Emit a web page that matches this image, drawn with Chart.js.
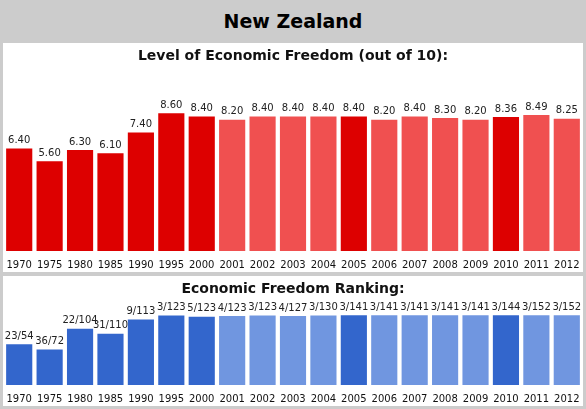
<!DOCTYPE html><html><head><script src="https://cdn.jsdelivr.net/npm/chart.js@4"></script>
<style>body{margin:0;background:#ccc;width:586px;height:409px;overflow:hidden;font-family:"DejaVu Sans"}
#t{height:42px;line-height:42px;text-align:center;font-weight:bold;font-size:19px;color:#000}
.p{position:absolute;left:3px;width:580px;background:#fff}
</style></head><body>
<div id="t">New Zealand</div>
<div class="p" style="top:43px;height:229px"><canvas id="c1"></canvas></div>
<div class="p" style="top:276px;height:130px"><canvas id="c2"></canvas></div>
<script>
const years=['1970','1975','1980','1985','1990','1995','2000','2001','2002','2003','2004','2005','2006','2007','2008','2009','2010','2011','2012'];
const scores=[6.40,5.60,6.30,6.10,7.40,8.60,8.40,8.20,8.40,8.40,8.40,8.40,8.20,8.40,8.30,8.20,8.36,8.49,8.25];
const ranks=[23,36,22,31,9,3,5,4,3,4,3,3,3,3,3,3,3,3,3];
const totals=[54,72,104,110,113,123,123,123,123,127,130,141,141,141,141,141,144,152,152];
const darkYears=['1970','1975','1980','1985','1990','1995','2000','2005','2010'];
const rankShare=ranks.map((r,i)=>1-r/totals[i]);
const lbl={id:'lbl',afterDatasetsDraw(ch){const c=ch.ctx,m=ch.getDatasetMeta(0);c.save();c.font='10px "DejaVu Sans"';c.fillStyle='#222';c.textAlign='center';c.textBaseline='bottom';
m.data.forEach((b,i)=>c.fillText(ch.options.plugins.lbl.texts[i],b.x,b.y-3));c.restore();}};
function mk(id,data,max,dark,light,texts,title,top){
new Chart(document.getElementById(id),{type:'bar',data:{labels:years,datasets:[{data,backgroundColor:years.map(y=>darkYears.includes(y)?dark:light),categoryPercentage:0.86,barPercentage:1}]},
options:{responsive:true,maintainAspectRatio:false,animation:false,layout:{padding:{left:1,right:1,top:0,bottom:1}},
plugins:{legend:{display:false},tooltip:{enabled:false},lbl:{texts},title:{display:true,text:title,font:{family:'DejaVu Sans',size:14,weight:'bold'},color:'#111',padding:{top:5,bottom:top}}},
scales:{y:{display:false,min:0,max},x:{grid:{display:false},border:{display:false},ticks:{color:'#111',font:{family:'DejaVu Sans',size:10,lineHeight:1},padding:1,maxRotation:0,autoSkip:false}}}},plugins:[lbl]});}
mk('c1',scores,10,'#dd0000','#f05050',scores.map(v=>v.toFixed(2)),'Level of Economic Freedom (out of 10):',26);
mk('c2',rankShare,1,'#3366cc','#7096e0',ranks.map((r,i)=>r+'/'+totals[i]),'Economic Freedom Ranking:',16);
</script></body></html>
